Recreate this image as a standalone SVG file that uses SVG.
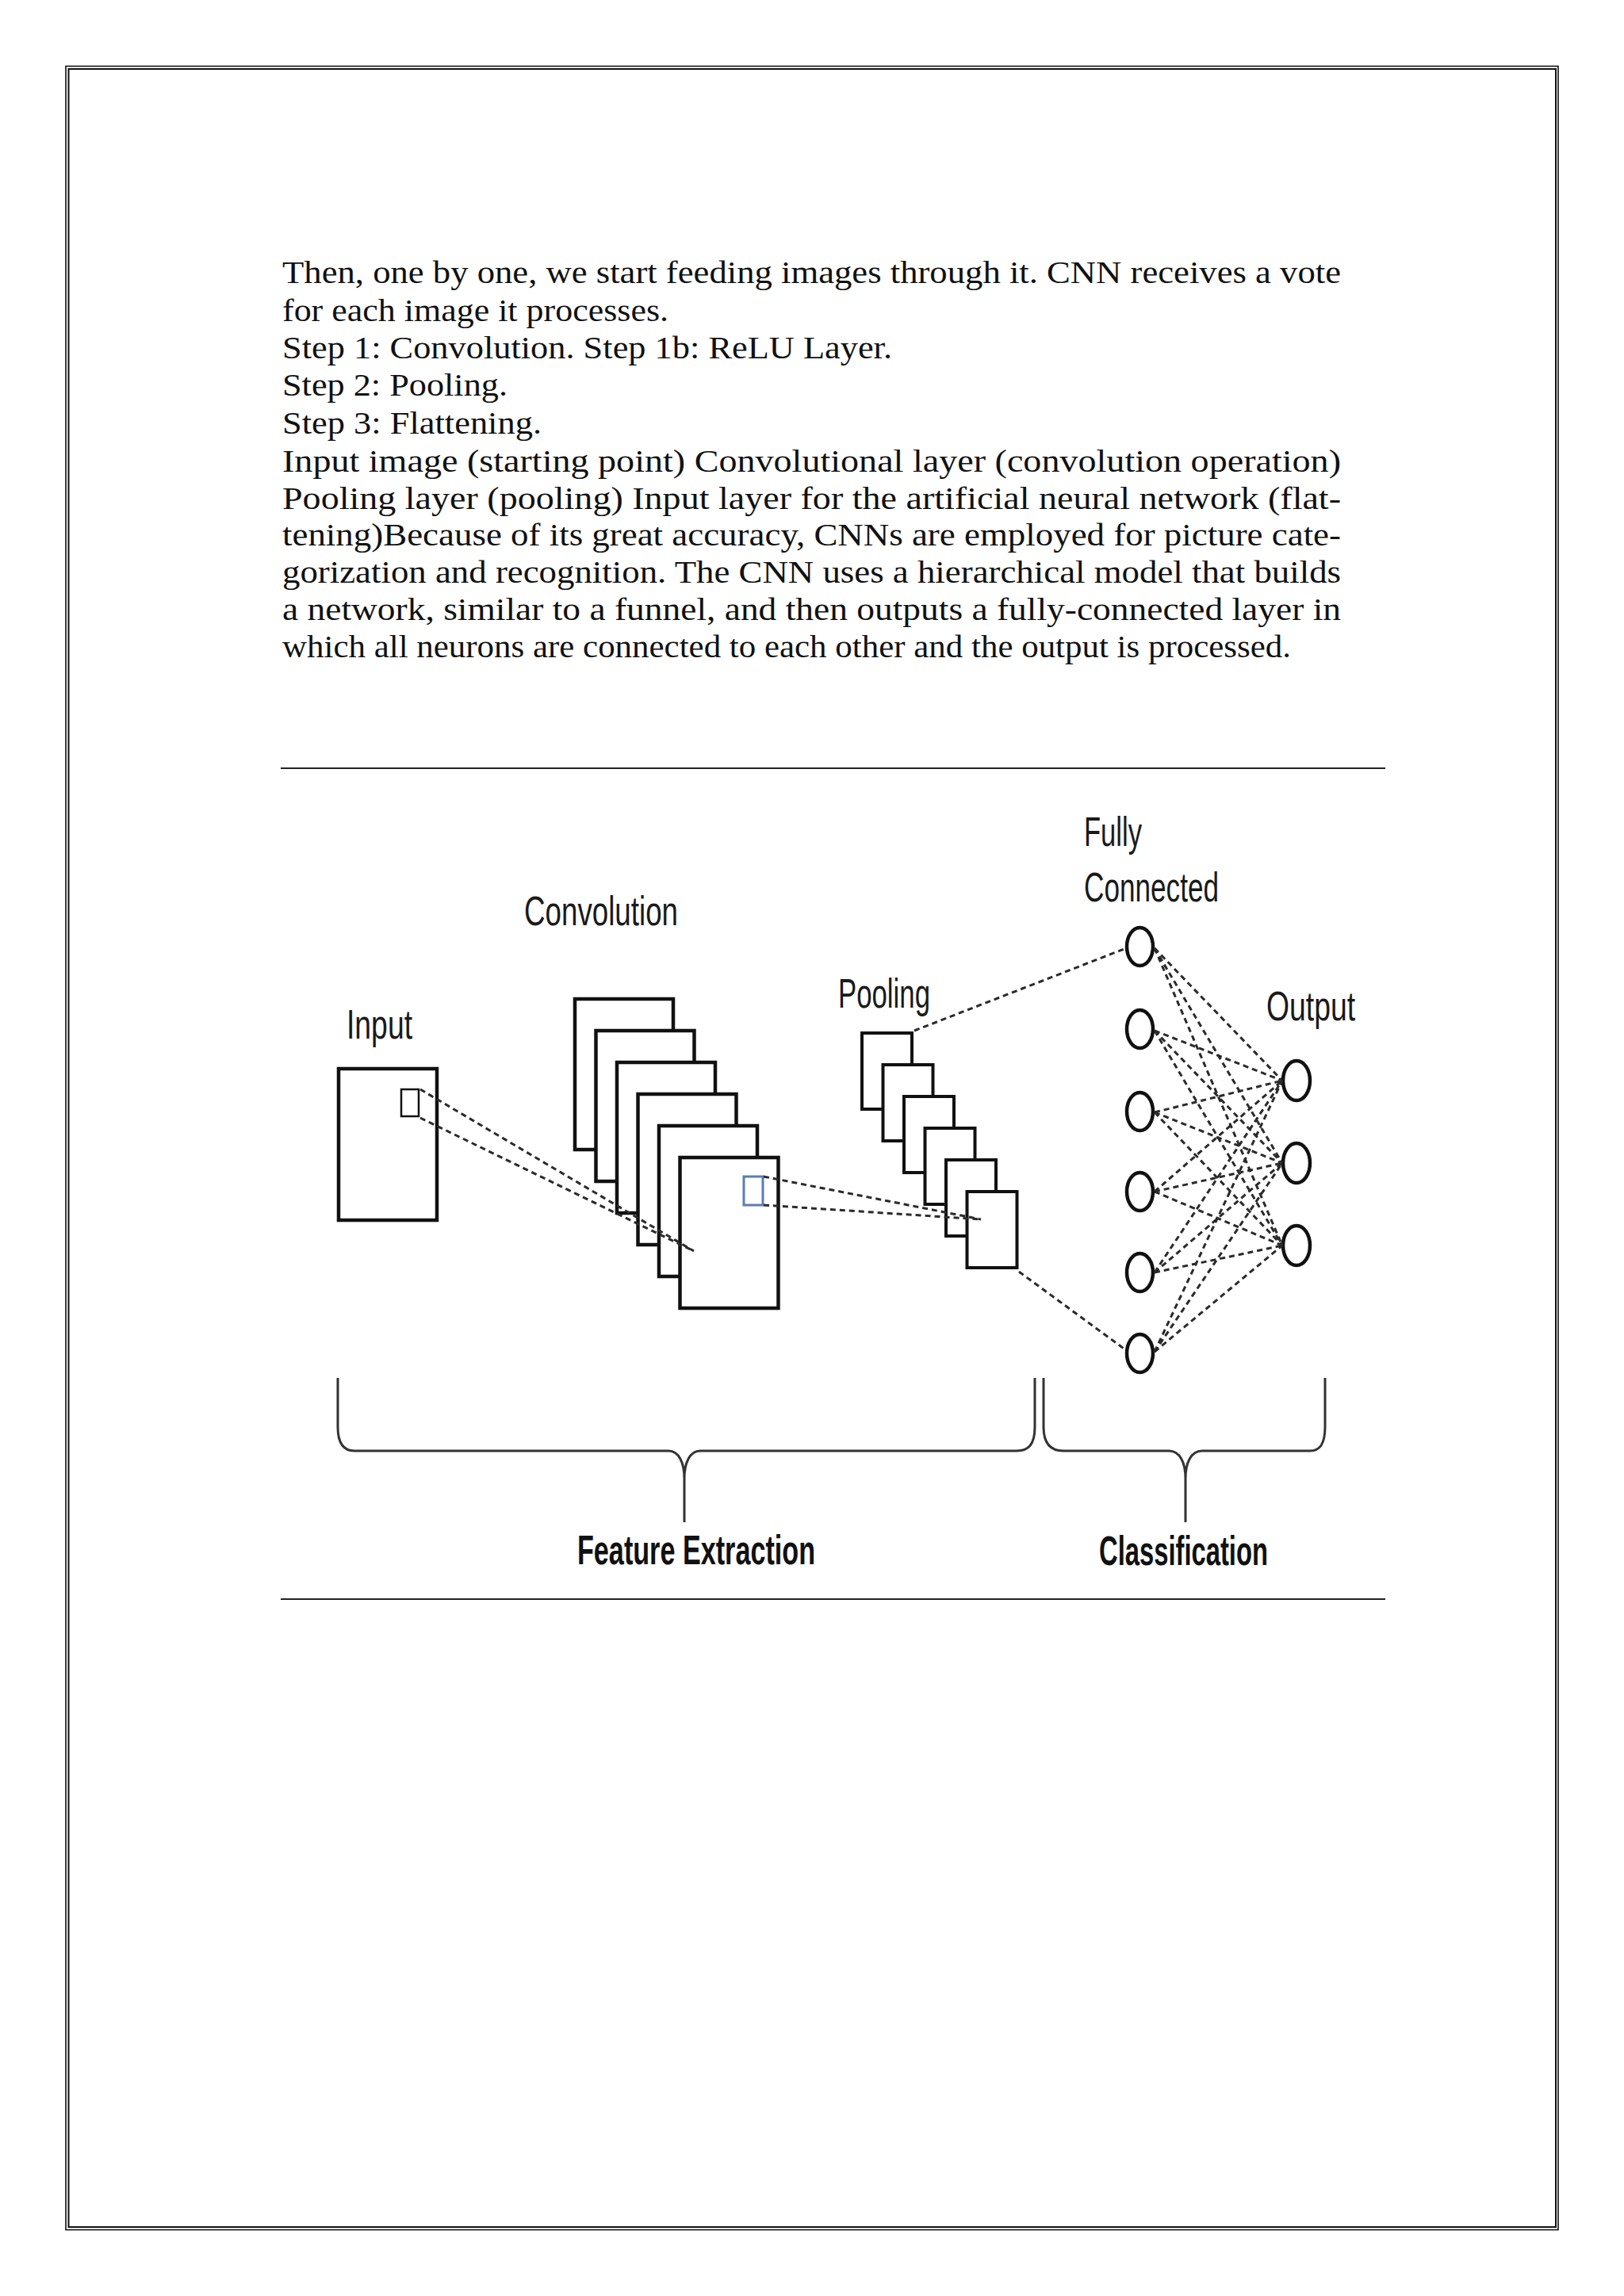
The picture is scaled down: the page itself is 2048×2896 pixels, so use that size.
<svg xmlns="http://www.w3.org/2000/svg" width="2048" height="2896" viewBox="0 0 2048 2896">
<defs>
<style>
.body{font-family:"Liberation Serif","Times New Roman",serif;font-size:39px;fill:#111}
.lbl{font-family:"Liberation Sans",Arial,sans-serif;font-size:52px;fill:#1a1a1a}
.lblb{font-family:"Liberation Sans",Arial,sans-serif;font-size:52px;font-weight:bold;fill:#111}
.box{fill:#fff;stroke:#111;stroke-width:4.5}
.pbox{fill:#fff;stroke:#111;stroke-width:4}
.neuron{fill:#fff;stroke:#111;stroke-width:4.5}
.dash{fill:none;stroke:#2a2a2a;stroke-width:3;stroke-dasharray:7 5}
.brace{fill:none;stroke:#333;stroke-width:3}
.rule{stroke:#222;stroke-width:2}
</style>
</defs>
<rect width="2048" height="2896" fill="#fff"/>
<g id="page-border" fill="none" stroke="#111">
<rect x="83" y="83.5" width="1882" height="2729" stroke-width="1.6"/>
<rect x="86.5" y="87" width="1875.5" height="2722" stroke-width="2"/>
</g>
<g id="body-text" class="body">
<text x="356" y="357" textLength="1335" lengthAdjust="spacingAndGlyphs">Then, one by one, we start feeding images through it.  CNN receives a vote</text>
<text x="356" y="404.5" textLength="487" lengthAdjust="spacingAndGlyphs">for each image it processes.</text>
<text x="356" y="452" textLength="769" lengthAdjust="spacingAndGlyphs">Step 1: Convolution. Step 1b: ReLU Layer.</text>
<text x="356" y="499" textLength="284" lengthAdjust="spacingAndGlyphs">Step 2:  Pooling.</text>
<text x="356" y="547" textLength="327" lengthAdjust="spacingAndGlyphs">Step 3:  Flattening.</text>
<text x="356" y="595" textLength="1335" lengthAdjust="spacingAndGlyphs">Input image (starting point) Convolutional layer (convolution operation)</text>
<text x="356" y="642" textLength="1335" lengthAdjust="spacingAndGlyphs">Pooling layer (pooling) Input layer for the artificial neural network (flat-</text>
<text x="356" y="688" textLength="1335" lengthAdjust="spacingAndGlyphs">tening)Because of its great accuracy, CNNs are employed for picture cate-</text>
<text x="356" y="735" textLength="1335" lengthAdjust="spacingAndGlyphs">gorization and recognition. The CNN uses a hierarchical model that builds</text>
<text x="356" y="782" textLength="1335" lengthAdjust="spacingAndGlyphs">a network, similar to a funnel, and then outputs a fully-connected layer in</text>
<text x="356" y="829" textLength="1272" lengthAdjust="spacingAndGlyphs">which all neurons are connected to each other and the output is processed.</text>
</g>
<g id="rules">
<line class="rule" x1="354" y1="969" x2="1747" y2="969"/>
<line class="rule" x1="354" y1="2017" x2="1747" y2="2017"/>
</g>
<g id="input">
<text class="lbl" x="437" y="1310" textLength="83" lengthAdjust="spacingAndGlyphs">Input</text>
<rect class="box" x="427" y="1348" width="124" height="191"/>
<rect x="506" y="1374" width="22" height="34" fill="none" stroke="#111" stroke-width="2.5"/>
</g>
<g id="convolution">
<text class="lbl" x="661" y="1167" textLength="194" lengthAdjust="spacingAndGlyphs">Convolution</text>
<rect class="box" x="725" y="1260" width="124" height="190"/>
<rect class="box" x="751.5" y="1300" width="124" height="190"/>
<rect class="box" x="778" y="1340" width="124" height="190"/>
<rect class="box" x="804.5" y="1380" width="124" height="190"/>
<rect class="box" x="831" y="1420" width="124" height="190"/>
<rect class="box" x="857.5" y="1460" width="124" height="190"/>
<rect x="938" y="1484" width="24" height="36" fill="none" stroke="#5a7db8" stroke-width="3"/>
</g>
<g id="pooling">
<text class="lbl" x="1057" y="1271" textLength="116" lengthAdjust="spacingAndGlyphs">Pooling</text>
<rect class="pbox" x="1087" y="1303" width="63" height="96"/>
<rect class="pbox" x="1113.5" y="1343" width="63" height="96"/>
<rect class="pbox" x="1140" y="1383" width="63" height="96"/>
<rect class="pbox" x="1166.5" y="1423" width="63" height="96"/>
<rect class="pbox" x="1193" y="1463" width="63" height="96"/>
<rect class="pbox" x="1219.5" y="1503" width="63" height="96"/>
</g>
<g id="fully-connected">
<text class="lbl" x="1367" y="1067" textLength="73" lengthAdjust="spacingAndGlyphs">Fully</text>
<text class="lbl" x="1367" y="1137" textLength="170" lengthAdjust="spacingAndGlyphs">Connected</text>
<ellipse class="neuron" cx="1437.5" cy="1194" rx="16.5" ry="24"/>
<ellipse class="neuron" cx="1437.5" cy="1298" rx="16.5" ry="24"/>
<ellipse class="neuron" cx="1437.5" cy="1402" rx="16.5" ry="24"/>
<ellipse class="neuron" cx="1437.5" cy="1503" rx="16.5" ry="24"/>
<ellipse class="neuron" cx="1437.5" cy="1605" rx="16.5" ry="24"/>
<ellipse class="neuron" cx="1437.5" cy="1707" rx="16.5" ry="24"/>
</g>
<g id="output">
<text class="lbl" x="1597" y="1287" textLength="112" lengthAdjust="spacingAndGlyphs">Output</text>
<ellipse class="neuron" cx="1635" cy="1363" rx="17" ry="25"/>
<ellipse class="neuron" cx="1635" cy="1467" rx="17" ry="25"/>
<ellipse class="neuron" cx="1635" cy="1571" rx="17" ry="25"/>
</g>
<g id="connectors" class="dash">
<line x1="530" y1="1374" x2="875" y2="1578"/>
<line x1="530" y1="1410" x2="875" y2="1578"/>
<line x1="963" y1="1484" x2="1237" y2="1538"/>
<line x1="963" y1="1520" x2="1237" y2="1538"/>
<line x1="1153" y1="1300" x2="1420" y2="1196"/>
<line x1="1285" y1="1604" x2="1420" y2="1703"/>
<line x1="1456" y1="1196" x2="1617" y2="1363"/>
<line x1="1456" y1="1196" x2="1617" y2="1467"/>
<line x1="1456" y1="1196" x2="1617" y2="1571"/>
<line x1="1456" y1="1300" x2="1617" y2="1363"/>
<line x1="1456" y1="1300" x2="1617" y2="1467"/>
<line x1="1456" y1="1300" x2="1617" y2="1571"/>
<line x1="1456" y1="1403" x2="1617" y2="1363"/>
<line x1="1456" y1="1403" x2="1617" y2="1467"/>
<line x1="1456" y1="1403" x2="1617" y2="1571"/>
<line x1="1456" y1="1503" x2="1617" y2="1363"/>
<line x1="1456" y1="1503" x2="1617" y2="1467"/>
<line x1="1456" y1="1503" x2="1617" y2="1571"/>
<line x1="1456" y1="1605" x2="1617" y2="1363"/>
<line x1="1456" y1="1605" x2="1617" y2="1467"/>
<line x1="1456" y1="1605" x2="1617" y2="1571"/>
<line x1="1456" y1="1705" x2="1617" y2="1363"/>
<line x1="1456" y1="1705" x2="1617" y2="1467"/>
<line x1="1456" y1="1705" x2="1617" y2="1571"/>
</g>
<g id="feature-extraction">
<path class="brace" d="M426,1738 L426,1800 C426,1822 434,1830 447,1830 L843,1830 C856,1830 863,1845 863,1865 L863,1920 M863,1865 C863,1845 870,1830 883,1830 L1282,1830 C1297,1830 1305,1822 1305,1800 L1305,1738"/>
<text class="lblb" x="728" y="1973" textLength="300" lengthAdjust="spacingAndGlyphs">Feature Extraction</text>
</g>
<g id="classification">
<path class="brace" d="M1316,1738 L1316,1800 C1316,1822 1326,1830 1341,1830 L1474,1830 C1488,1830 1495,1845 1495,1865 L1495,1920 M1495,1865 C1495,1845 1502,1830 1516,1830 L1652,1830 C1664,1830 1671,1822 1671,1800 L1671,1738"/>
<text class="lblb" x="1386" y="1974" textLength="213" lengthAdjust="spacingAndGlyphs">Classification</text>
</g>
</svg>
